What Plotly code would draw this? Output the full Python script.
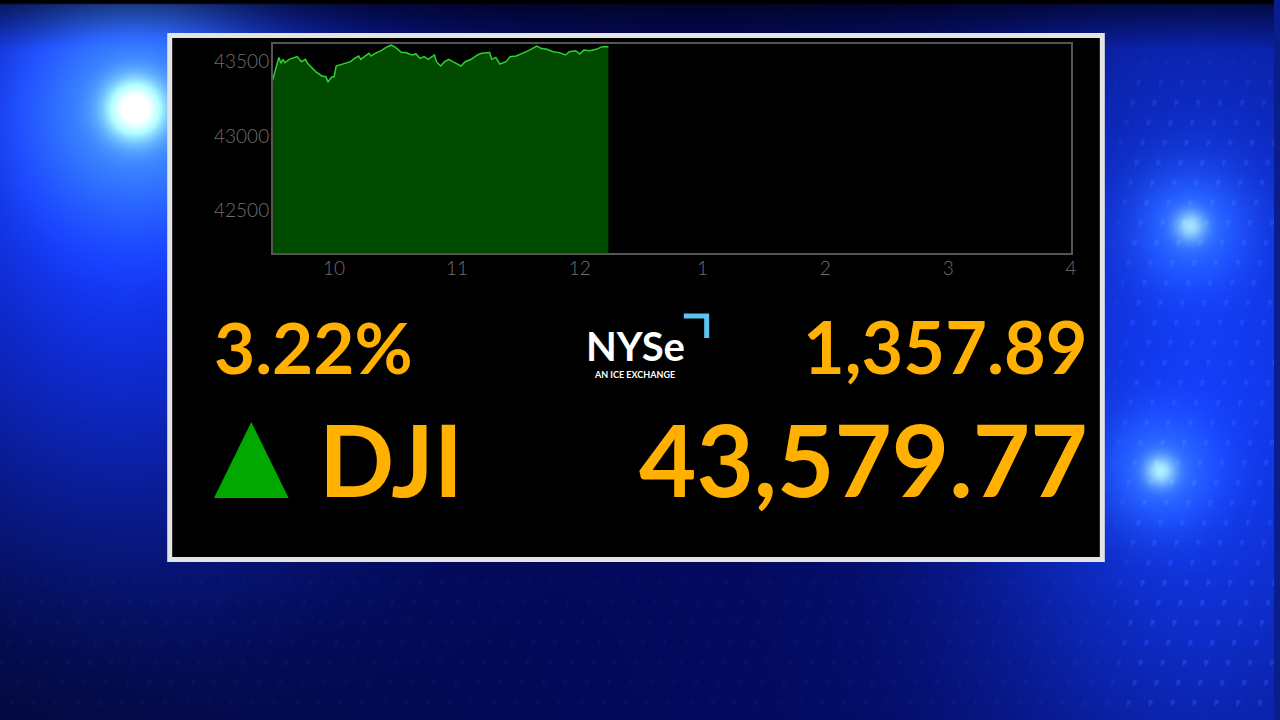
import base64, struct, zlib
import numpy as np
import plotly.graph_objects as go

# ---------------- data ----------------
times = ["09:30", "09:32", "09:33", "09:34", "09:35", "09:36", "09:37", "09:38", "09:42", "09:44",
         "09:46", "09:47", "09:51", "09:54", "09:56", "09:57", "09:59", "10:00", "10:01", "10:04",
         "10:06", "10:08", "10:10", "10:12", "10:13", "10:15", "10:17", "10:18", "10:20", "10:23",
         "10:26", "10:28", "10:30", "10:33", "10:35", "10:38", "10:40", "10:42", "10:44", "10:46",
         "10:49", "10:50", "10:52", "10:54", "10:56", "10:58", "11:02", "11:04", "11:07", "11:10",
         "11:12", "11:16", "11:17", "11:19", "11:21", "11:24", "11:26", "11:29", "11:33", "11:35",
         "11:39", "11:41", "11:44", "11:47", "11:50", "11:53", "11:55", "11:58", "12:00", "12:02",
         "12:05", "12:08", "12:11", "12:14"]
values = [43377, 43489, 43529, 43489, 43516, 43493, 43507, 43516, 43534, 43500,
          43516, 43489, 43433, 43404, 43399, 43365, 43399, 43399, 43471, 43482,
          43489, 43500, 43522, 43538, 43516, 43534, 43556, 43538, 43556, 43574,
          43601, 43612, 43596, 43561, 43561, 43545, 43552, 43522, 43534, 43516,
          43545, 43500, 43471, 43500, 43516, 43500, 43471, 43500, 43516, 43545,
          43556, 43561, 43516, 43529, 43484, 43500, 43534, 43538, 43561, 43574,
          43605, 43590, 43583, 43567, 43561, 43545, 43567, 43574, 43552, 43578,
          43574, 43583, 43601, 43601]
x_tickvals = [10, 11, 12, 13, 14, 15, 16]
x_ticktext = ["10", "11", "12", "1", "2", "3", "4"]
y_tickvals = [42500, 43000, 43500]
pct_change = "3.22%"
point_change = "1,357.89"
index_name = "DJI"
index_level = "43,579.77"

hours = [int(t[:2]) + int(t[3:]) / 60 for t in times]

W, H = 1280, 720


def px(x):
    return x / W


def py(y):
    return 1 - y / H


# ---------------- background image (decorative) ----------------
bw, bh = 640, 360
yy, xx = np.mgrid[0:bh, 0:bw].astype(float)
X = xx * 2
Y = yy * 2
r = np.full((bh, bw), 4.0); g = np.full((bh, bw), 10.0); b = np.full((bh, bw), 95.0)


def gauss(cx, cy, sx, sy):
    return np.exp(-((X - cx) ** 2) / (2 * sx ** 2) - ((Y - cy) ** 2) / (2 * sy ** 2))


# left blue halo
lh = gauss(120, 180, 180, 260)
r += 15 * lh; g += 45 * lh; b += 160 * lh
# right bright blue region
rh = gauss(1210, 380, 170, 300)
r += 15 * rh; g += 50 * rh; b += 150 * rh
# bottom-left darker
bl = gauss(0, 720, 300, 200)
r -= 2 * bl; g -= 5 * bl; b -= 45 * bl
# top darkening
top = np.clip((Y - 4) / 45, 0, 1)
r *= 0.4 + 0.6 * top; g *= 0.4 + 0.6 * top; b *= 0.45 + 0.55 * top
# dotted texture on right / bottom
dots = ((np.mod(X + 0.3 * Y, 22) < 3) & (np.mod(Y, 20) < 6)).astype(float)
dm = np.clip((X - 1110) / 30, 0, 1) * np.clip((Y - 40) / 60, 0, 1) * 0.7 + np.clip((Y - 565) / 20, 0, 1) * 0.25
dm = np.clip(dm, 0, 1)
r += 14 * dots * dm; g += 22 * dots * dm; b += 35 * dots * dm
# glows
for (cx, cy, s1, s2, k, hk) in [(135, 108, 20, 80, 1.0, 1.0), (1195, 225, 11, 40, 0.5, 0.6),
                                (1165, 470, 11, 40, 0.55, 0.6)]:
    d2 = (X - cx) ** 2 + (Y - cy) ** 2
    core = np.exp(-d2 / (2 * s1 ** 2))
    halo = np.exp(-d2 / (2 * s2 ** 2))
    r += k * 235 * core + hk * 50 * halo
    g += k * 230 * core + hk * 100 * halo
    b += k * 200 * core + hk * 90 * halo
img = np.clip(np.stack([r, g, b], axis=-1), 0, 255).astype(np.uint8)
img[0:2, :, :] = 0


def to_png(a):
    h, w, _ = a.shape
    raw = b"".join(b"\x00" + a[i].tobytes() for i in range(h))

    def chunk(tag, data):
        c = struct.pack(">I", len(data)) + tag + data
        return c + struct.pack(">I", zlib.crc32(tag + data) & 0xFFFFFFFF)

    return (b"\x89PNG\r\n\x1a\n" + chunk(b"IHDR", struct.pack(">IIBBBBB", w, h, 8, 2, 0, 0, 0))
            + chunk(b"IDAT", zlib.compress(raw, 9)) + chunk(b"IEND", b""))


bg_uri = "data:image/png;base64," + base64.b64encode(to_png(img)).decode()

# ---------------- figure ----------------
fig = go.Figure()
fig.add_trace(go.Scatter(
    x=hours, y=values, mode="lines", fill="tozeroy",
    line=dict(color="#2fd02f", width=1.5, shape="linear"),
    fillcolor="#004a00", hoverinfo="skip", showlegend=False,
))

orange = "#ffb000"
font_main = "Lato"
num_w = "bold"

fig.update_layout(
    width=W, height=H,
    margin=dict(l=0, r=0, t=0, b=0),
    paper_bgcolor="#0a1d8c",
    plot_bgcolor="#000000",
    xaxis=dict(
        domain=[px(274), px(1076)], range=[9.5, 16],
        tickvals=x_tickvals, ticktext=x_ticktext,
        showgrid=True, gridcolor="rgba(0,0,0,0.18)", gridwidth=1,
        zeroline=False, showline=True, linecolor="#555555", linewidth=1.5, mirror=True,
        ticks="", ticklabelstandoff=-3,
        tickfont=dict(family="Lato", size=19, color="#6e6e6e", weight=300),
        fixedrange=True,
    ),
    yaxis=dict(
        domain=[py(253), py(44)], range=[42213, 43619],
        tickvals=y_tickvals, ticktext=[str(v) for v in y_tickvals],
        showgrid=False, zeroline=False, showline=True, linecolor="#555555", linewidth=1.5, mirror=True,
        ticks="", ticklabelstandoff=-2,
        tickfont=dict(family="Lato", size=19, color="#6e6e6e", weight=300),
        fixedrange=True,
    ),
    images=[dict(source=bg_uri, xref="paper", yref="paper", x=0, y=1, sizex=1, sizey=1,
                 sizing="stretch", layer="below", xanchor="left", yanchor="top")],
    shapes=[
        # panel
        dict(type="rect", xref="paper", yref="paper", x0=px(170.5), x1=px(1107.5), y0=py(559.5), y1=py(35.5),
             line=dict(color="#e4e4e4", width=5), fillcolor="#000000", layer="below"),
        # up triangle
        dict(type="path", xref="paper", yref="paper",
             path=f"M {px(215)} {py(498)} L {px(252.5)} {py(422)} L {px(290)} {py(498)} Z",
             fillcolor="#00a800", line=dict(width=0), layer="above"),
        # NYSE logo bracket
        dict(type="path", xref="paper", yref="paper",
             path=f"M {px(687)} {py(316)} L {px(710)} {py(316)} L {px(710)} {py(338)}",
             line=dict(color="#5cc4ef", width=5), layer="above"),
    ],
    annotations=[
        dict(text=pct_change, xref="paper", yref="paper", x=px(213), y=py(346), xanchor="left", yanchor="middle",
             showarrow=False, font=dict(family=font_main, size=71, color=orange, weight=num_w)),
        dict(text=point_change, xref="paper", yref="paper", x=px(1095), y=py(346), xanchor="right", yanchor="middle",
             showarrow=False, font=dict(family=font_main, size=72, color=orange, weight=num_w)),
        dict(text=index_name, xref="paper", yref="paper", x=px(318), y=py(459), xanchor="left", yanchor="middle",
             showarrow=False, font=dict(family=font_main, size=99, color=orange, weight=num_w)),
        dict(text=index_level, xref="paper", yref="paper", x=px(1095), y=py(459), xanchor="right", yanchor="middle",
             showarrow=False, font=dict(family=font_main, size=99, color=orange, weight=num_w)),
        dict(text="NYSe", xref="paper", yref="paper", x=px(638), y=py(346), xanchor="center", yanchor="middle",
             showarrow=False, font=dict(family="Lato", size=40, color="#ffffff", weight="bold")),
        dict(text="AN ICE EXCHANGE", xref="paper", yref="paper", x=px(637), y=py(374), xanchor="center",
             yanchor="middle", showarrow=False, font=dict(family="Lato", size=9, color="#ffffff", weight="bold")),
    ],
)

fig.write_html("out.html", config={"displayModeBar": False},
               post_script="document.body.style.margin='0';document.body.style.overflow='hidden';")
